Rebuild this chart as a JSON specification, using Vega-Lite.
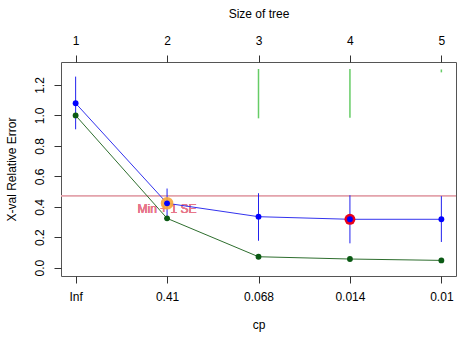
{
  "$schema": "https://vega.github.io/schema/vega-lite/v6.json",
  "width": 395,
  "height": 214,
  "autosize": "none",
  "padding": {"left": 61, "top": 62, "right": 18, "bottom": 68},
  "background": "white",
  "config": {
    "view": {"stroke": "#555", "strokeWidth": 1},
    "axis": {
      "domain": false, "grid": false, "tickColor": "#333", "tickSize": 7, "tickWidth": 1,
      "labelFont": "Liberation Sans", "labelFontSize": 12, "labelColor": "#000", "labelOverlap": false,
      "titleFont": "Liberation Sans", "titleFontSize": 12, "titleFontWeight": "normal", "titleColor": "#000"
    },
    "axisY": {"labelAngle": -90, "labelAlign": "center", "labelBaseline": "bottom", "labelPadding": 8, "titlePadding": 15, "labelOverlap": false}
  },
  "datasets": {
    "cp": [
      {"size": 1, "xerror": 1.08, "xlow": 0.909, "xhigh": 1.255, "relerr": 1.0},
      {"size": 2, "xerror": 0.423, "xlow": 0.323, "xhigh": 0.52, "relerr": 0.324},
      {"size": 3, "xerror": 0.335, "xlow": 0.177, "xhigh": 0.489, "relerr": 0.072},
      {"size": 4, "xerror": 0.318, "xlow": 0.16, "xhigh": 0.476, "relerr": 0.057},
      {"size": 5, "xerror": 0.318, "xlow": 0.169, "xhigh": 0.47, "relerr": 0.048}
    ],
    "top": [
      {"size": 3, "y1": 0.981, "y2": 1.305},
      {"size": 4, "y1": 0.985, "y2": 1.305},
      {"size": 5, "y1": 1.283, "y2": 1.302}
    ]
  },
  "resolve": {"scale": {"x": "independent"}, "axis": {"x": "independent"}},
  "layer": [
    {
      "data": {"name": "top"},
      "mark": {"type": "rule", "color": "#66cc66", "strokeWidth": 1.5},
      "encoding": {
        "x": {"field": "size", "type": "quantitative",
              "scale": {"domain": [0.84, 5.16], "nice": false, "zero": false},
              "axis": {"orient": "top", "title": "Size of tree", "values": [1, 2, 3, 4, 5], "format": "d", "labelPadding": 8, "titlePadding": 14}},
        "y": {"field": "y1", "type": "quantitative",
              "scale": {"domain": [-0.0545, 1.351], "nice": false, "zero": false},
              "axis": {"title": "X-val Relative Error", "values": [0, 0.2, 0.4, 0.6, 0.8, 1.0, 1.2], "format": ".1f", "labelOverlap": false}},
        "y2": {"field": "y2"}
      }
    },
    {
      "data": {"name": "cp"},
      "encoding": {
        "x": {"field": "size", "type": "quantitative",
              "scale": {"domain": [0.84, 5.16], "nice": false, "zero": false},
              "axis": {"orient": "bottom", "title": "cp", "values": [1, 2, 3, 4, 5],
                       "labelExpr": "datum.value == 1 ? 'Inf' : datum.value == 2 ? '0.41' : datum.value == 3 ? '0.068' : datum.value == 4 ? '0.014' : '0.01'",
                       "labelPadding": 8, "titlePadding": 17}}
      },
      "layer": [
        {
          "mark": {"type": "rule", "color": "#e3a3ad", "strokeWidth": 1.2},
          "encoding": {"x": null, "y": {"datum": 0.473, "type": "quantitative", "axis": {"title": "X-val Relative Error", "values": [0, 0.2, 0.4, 0.6, 0.8, 1.0, 1.2], "format": ".1f", "labelOverlap": false}}}
        },
        {
          "mark": {"type": "text", "text": "Min + 1 SE", "color": "#e8768a", "font": "Liberation Sans", "fontSize": 12, "fontWeight": "normal", "baseline": "middle", "align": "center", "dy": 13},
          "encoding": {"x": {"datum": 2, "type": "quantitative"}, "y": {"datum": 0.473, "type": "quantitative", "axis": {"title": "X-val Relative Error", "values": [0, 0.2, 0.4, 0.6, 0.8, 1.0, 1.2], "format": ".1f", "labelOverlap": false}}}
        },
        {
          "mark": {"type": "rule", "color": "#2222ee", "strokeWidth": 1},
          "encoding": {"y": {"field": "xlow", "type": "quantitative", "axis": {"title": "X-val Relative Error", "values": [0, 0.2, 0.4, 0.6, 0.8, 1.0, 1.2], "format": ".1f", "labelOverlap": false}}, "y2": {"field": "xhigh"}}
        },
        {
          "mark": {"type": "line", "color": "#3333ee", "strokeWidth": 1},
          "encoding": {"y": {"field": "xerror", "type": "quantitative", "axis": {"title": "X-val Relative Error", "values": [0, 0.2, 0.4, 0.6, 0.8, 1.0, 1.2], "format": ".1f", "labelOverlap": false}}}
        },
        {
          "mark": {"type": "line", "color": "#2e6e2e", "strokeWidth": 1},
          "encoding": {"y": {"field": "relerr", "type": "quantitative", "axis": {"title": "X-val Relative Error", "values": [0, 0.2, 0.4, 0.6, 0.8, 1.0, 1.2], "format": ".1f", "labelOverlap": false}}}
        },
        {
          "transform": [{"filter": "datum.size == 2"}],
          "mark": {"type": "point", "filled": true, "color": "#f7a63a", "opacity": 0.9, "size": 160},
          "encoding": {"y": {"field": "xerror", "type": "quantitative", "axis": {"title": "X-val Relative Error", "values": [0, 0.2, 0.4, 0.6, 0.8, 1.0, 1.2], "format": ".1f", "labelOverlap": false}}}
        },
        {
          "transform": [{"filter": "datum.size == 4"}],
          "mark": {"type": "point", "filled": true, "color": "#e8001c", "opacity": 1, "size": 120},
          "encoding": {"y": {"field": "xerror", "type": "quantitative", "axis": {"title": "X-val Relative Error", "values": [0, 0.2, 0.4, 0.6, 0.8, 1.0, 1.2], "format": ".1f", "labelOverlap": false}}}
        },
        {
          "mark": {"type": "point", "filled": true, "color": "#0000ff", "opacity": 1, "size": 34},
          "encoding": {"y": {"field": "xerror", "type": "quantitative", "axis": {"title": "X-val Relative Error", "values": [0, 0.2, 0.4, 0.6, 0.8, 1.0, 1.2], "format": ".1f", "labelOverlap": false}}}
        },
        {
          "mark": {"type": "point", "filled": true, "color": "#0b5a14", "opacity": 1, "size": 34},
          "encoding": {"y": {"field": "relerr", "type": "quantitative", "axis": {"title": "X-val Relative Error", "values": [0, 0.2, 0.4, 0.6, 0.8, 1.0, 1.2], "format": ".1f", "labelOverlap": false}}}
        }
      ]
    }
  ]
}
